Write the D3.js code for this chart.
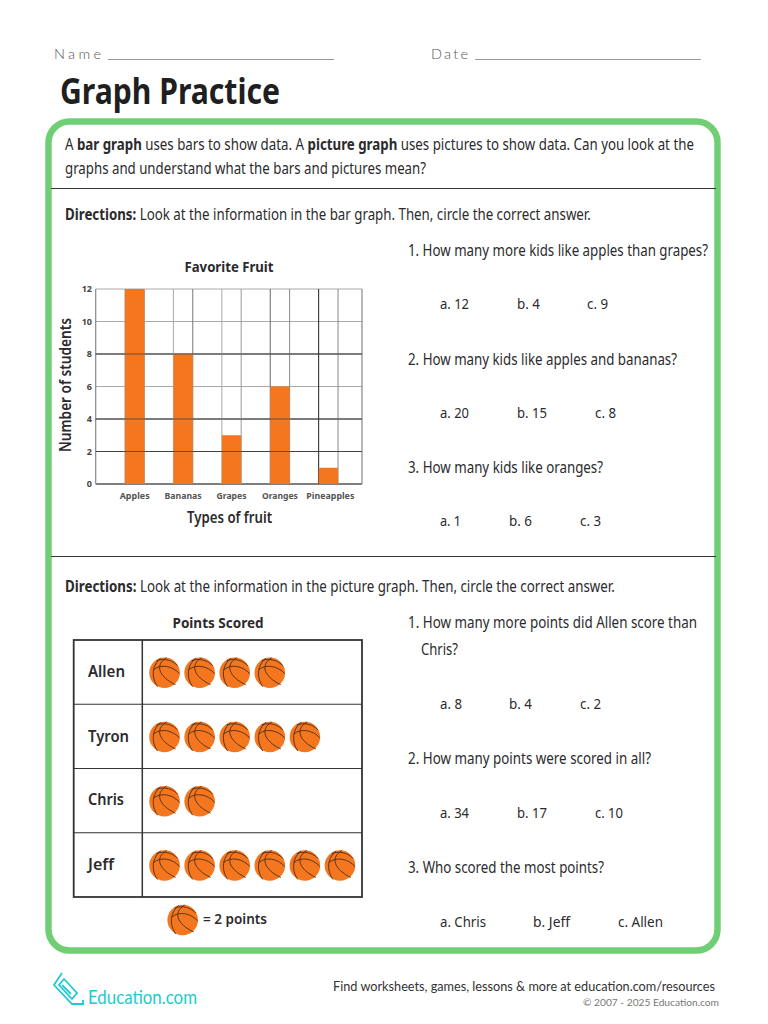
<!DOCTYPE html>
<html><head><meta charset="utf-8"><style>html,body{margin:0;padding:0;background:#fff}svg{display:block}text{font-family:"Noto Sans",sans-serif;fill:#2b2b2d}</style>
<script src="https://cdn.jsdelivr.net/npm/d3@7/dist/d3.min.js"></script></head><body><svg id="c" width="768" height="1024"></svg>
<script>
const fruits=["Apples","Bananas","Grapes","Oranges","Pineapples"];
const fruitVotes=[12,8,3,6,1];
const yTicks=[0,2,4,6,8,10,12];
const players=["Allen","Tyron","Chris","Jeff"];
const points=[8,10,4,12];
const pointsPerBall=2;
const svg=d3.select("#c");
function T(x,y,str,size,width,o={}){
  const t=svg.append("text").attr("x",x).attr("y",y).attr("font-size",size).attr("text-anchor",o.anchor||"start").attr("font-weight",o.weight||400).text(str);
  if(o.fill)t.style("fill",o.fill);
  if(width)t.attr("textLength",width).attr("lengthAdjust",o.adjust||"spacingAndGlyphs");
  return t;
}
// one line of mixed-weight runs, fitted to a total width by a horizontal scale
function R(x,y,runs,size,width){
  const gap=size*0.26;
  const line=svg.append("g");
  const nodes=runs.map(r=>line.append("text").attr("y",0).attr("font-size",size).attr("font-weight",r[1]).text(r[0]));
  const w=nodes.map(n=>n.node().getComputedTextLength());
  const k=width/(d3.sum(w)+gap*(runs.length-1));
  let cx=0;
  nodes.forEach((n,i)=>{ n.attr("x",cx); cx+=w[i]+gap; });
  line.attr("transform",`translate(${x},${y}) scale(${k},1)`);
}
// header
T(54,59,"Name",14.5,47,{fill:"#555",weight:300,adjust:"spacing"}).style("font-family","Lato");
T(431,59,"Date",14.5,37,{fill:"#555",weight:300,adjust:"spacing"}).style("font-family","Lato");
svg.append("line").attr("x1",108).attr("x2",334).attr("y1",59.5).attr("y2",59.5).attr("stroke","#999");
svg.append("line").attr("x1",475).attr("x2",701).attr("y1",59.5).attr("y2",59.5).attr("stroke","#999");
T(60,104,"Graph Practice",35,220,{weight:700,fill:"#1f1f21"});
// frame
svg.append("rect").attr("x",48.5).attr("y",121.5).attr("width",669).attr("height",829).attr("rx",21).attr("fill","none").attr("stroke","#70cf74").attr("stroke-width",6.5);
[188.5,556.5].forEach(y=>svg.append("line").attr("x1",51).attr("x2",716).attr("y1",y).attr("y2",y).attr("stroke","#333").attr("stroke-width",1));
R(65,149.5,[["A",400],["bar graph",700],["uses bars to show data. A",400],["picture graph",700],["uses pictures to show data. Can you look at the",400]],15.4,629);
T(65,173.5,"graphs and understand what the bars and pictures mean?",15.4,361);
R(65,219.5,[["Directions:",700],["Look at the information in the bar graph. Then, circle the correct answer.",400]],15.4,526);
R(65,592,[["Directions:",700],["Look at the information in the picture graph. Then, circle the correct answer.",400]],15.4,550);
// bar chart
const x=d3.scaleBand().domain(fruits).range([95.7,362]).paddingInner(0.6).paddingOuter(0.55).align(0.55);
const y=d3.scaleLinear().domain([0,12]).range([484,289]);
const g=svg.append("g");
yTicks.forEach(v=>g.append("line").attr("x1",95.7).attr("x2",362).attr("y1",y(v)).attr("y2",y(v)).attr("stroke",v===8||v===4||v===2?"#444":(v===0?"#555":"#aaa")).attr("stroke-width",v===0?1.6:1));
fruits.forEach((f,i)=>{
  const col=["#999","#aaa","#aaa","#666","#222"][i], col2=["#999","#777","#999","#888","#888"][i];
  g.append("line").attr("x1",x(f)).attr("x2",x(f)).attr("y1",289).attr("y2",484).attr("stroke",col);
  g.append("line").attr("x1",x(f)+x.bandwidth()).attr("x2",x(f)+x.bandwidth()).attr("y1",289).attr("y2",484).attr("stroke",col2);
});
[95.7,362].forEach(v=>g.append("line").attr("x1",v).attr("x2",v).attr("y1",289).attr("y2",484).attr("stroke","#888").attr("stroke-width",1.2));
g.selectAll(".bar").data(fruits).join("rect").attr("x",d=>x(d)).attr("width",x.bandwidth()).attr("y",(d,i)=>y(fruitVotes[i])).attr("height",(d,i)=>484-y(fruitVotes[i])).attr("fill","#f4761f");
yTicks.filter(v=>v===2||v===4||v===8).forEach(v=>g.append("line").attr("x1",95.7).attr("x2",362).attr("y1",y(v)).attr("y2",y(v)).attr("stroke","#444").attr("stroke-opacity",.8));
yTicks.forEach(v=>T(92,y(v)+3,String(v),9,null,{anchor:"end",weight:700,fill:"#444"}));
fruits.forEach((f,i)=>T(x(f)+x.bandwidth()/2-(i==4?-2:0),498.5,f,9.5,[30,37,30,36,48][i],{anchor:"middle",weight:700,fill:"#555"}));
T(229,272,"Favorite Fruit",15,89,{anchor:"middle",weight:700});
T(229.5,523,"Types of fruit",15.5,85,{anchor:"middle",weight:600});
T(0,0,"Number of students",15.5,134,{anchor:"middle",weight:600}).attr("transform","translate(70.5,385) rotate(-90)");
// picture graph
const rowY=d3.scaleBand().domain(players).range([640,897]);
const ballX=d3.scaleBand().domain(d3.range(6)).range([147,357.5]);
const frame=svg.append("g").attr("fill","none").attr("stroke","#333");
frame.append("rect").attr("x",73.7).attr("y",640).attr("width",288.3).attr("height",257).attr("stroke-width",1.8);
frame.append("line").attr("x1",142.3).attr("x2",142.3).attr("y1",640).attr("y2",897).attr("stroke-width",1.5);
players.slice(1).forEach(p=>frame.append("line").attr("x1",73.7).attr("x2",362).attr("y1",rowY(p)).attr("y2",rowY(p)).attr("stroke-width",1.2));
const ball=svg.append("defs").append("g").attr("id","ball");
ball.append("circle").attr("r",15.3).attr("fill","#f4761f");
["M-4,-14.5 C-12,-8 -14,4 -7,14","M2,-15 C-10,-8 -6,4 11,12","M-11,-3 C-4,-9 8,-7 15,1","M-8,-12 C0,-15 9,-12 13,-7"].forEach(d=>ball.append("path").attr("d",d).attr("fill","none").attr("stroke","#4a2f1c").attr("stroke-width",.9));
players.forEach((p,i)=>{
  T(88,rowY(p)+rowY.bandwidth()/2+[4.5,5.5,4.5,5.5][i],p,16,[37,41,36,26][i],{weight:600});
  d3.range(points[i]/pointsPerBall).forEach(k=>svg.append("use").attr("href","#ball").attr("transform",`translate(${ballX(k)+ballX.bandwidth()/2},${rowY(p)+rowY.bandwidth()/2+0.6})`));
});
svg.append("use").attr("href","#ball").attr("transform","translate(182.7,920)");
T(203,924,"= 2 points",15,64,{weight:600});
T(218,628,"Points Scored",15,91,{anchor:"middle",weight:700});
// questions
const questions=[
 [408,255.5,"1. How many more kids like apples than grapes?",300],
 [408,364.5,"2. How many kids like apples and bananas?",269],
 [408,472.5,"3. How many kids like oranges?",195],
 [408,627.5,"1. How many more points did Allen score than",289],
 [421,654.5,"Chris?",37],
 [408,763.5,"2. How many points were scored in all?",243],
 [408,872.5,"3. Who scored the most points?",196]];
questions.forEach(q=>T(q[0],q[1],q[2],15.4,q[3]));
const answers=[
 [440,309,"a. 12",29],[517,309,"b. 4",23],[587,309,"c. 9",21],
 [440,418,"a. 20",29],[517,418,"b. 15",30],[595,418,"c. 8",21],
 [440,526,"a. 1",21],[509,526,"b. 6",23],[580,526,"c. 3",21],
 [440,709,"a. 8",22],[509,709,"b. 4",23],[580,709,"c. 2",21],
 [440,818,"a. 34",29],[517,818,"b. 17",30],[595,818,"c. 10",28],
 [440,927,"a. Chris",46],[533,927,"b. Jeff",37],[618,927,"c. Allen",45]];
answers.forEach(a=>T(a[0],a[1],a[2],15,a[3]));
// footer
const logo=svg.append("g").attr("fill","none").attr("stroke","#22c9d0").attr("stroke-width",1.8);
logo.append("path").attr("d","M62,973 L54,985 L72,1004 L83,1004 L83,1000");
logo.append("path").attr("d","M64,979 L59,985 L72,999 L77,993 Z");
logo.append("path").attr("d","M62,985 L71,994");
T(88,1004,"Education.com",20,109,{fill:"#22c9d0"}).style("font-family","Lato");
T(715,991,"Find worksheets, games, lessons & more at education.com/resources",13,382,{anchor:"end",fill:"#333"}).style("font-family","Lato");
T(719,1006,"© 2007 - 2025 Education.com",10,136,{anchor:"end",fill:"#777"}).style("font-family","Lato");
</script></body></html>
